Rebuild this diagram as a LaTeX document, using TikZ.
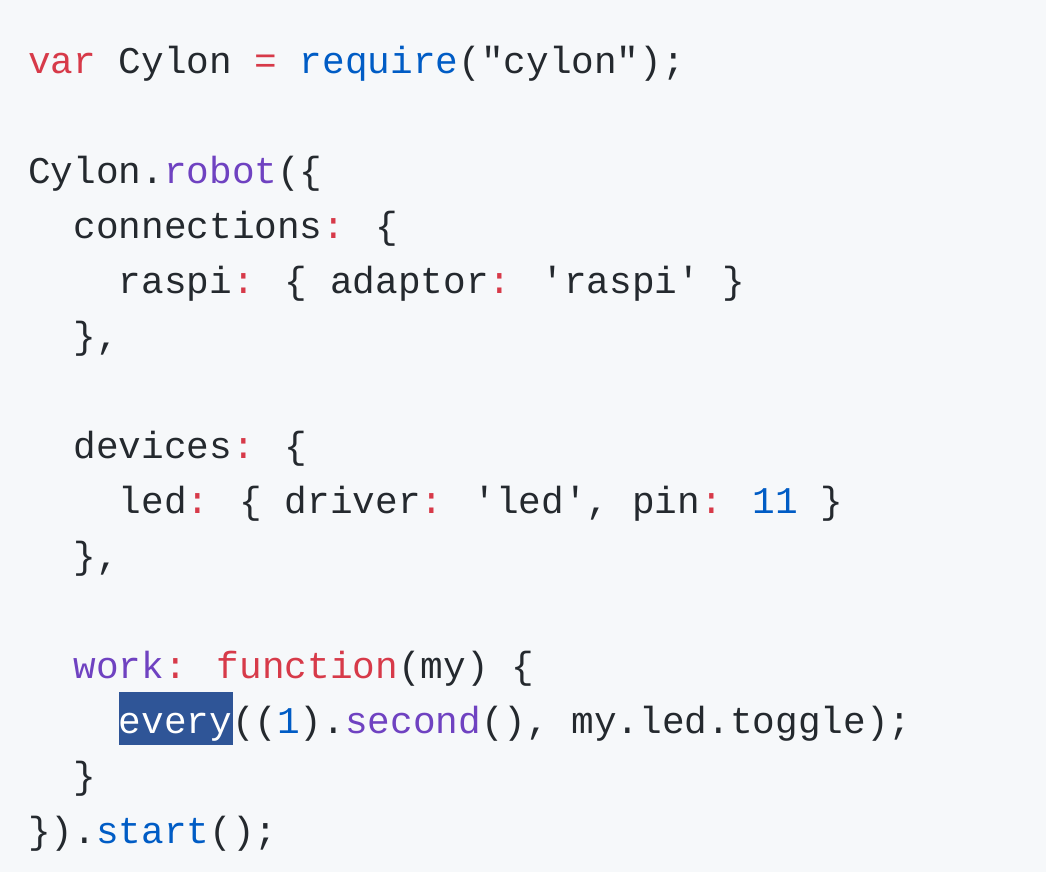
\documentclass[tikz,border=0pt]{standalone}
\usepackage{fontspec}
\newfontfamily\codefont{Liberation Mono}
\definecolor{bgc}{HTML}{F6F8FA}
\definecolor{txc}{HTML}{24292E}
\definecolor{kwc}{HTML}{D73A49}
\definecolor{blc}{HTML}{005CC5}
\definecolor{puc}{HTML}{6F42C1}
\definecolor{hlc}{HTML}{2F5597}
\newcommand{\ckw}[1]{\textcolor{kwc}{#1}}
\newcommand{\cbl}[1]{\textcolor{blc}{#1}}
\newcommand{\cpu}[1]{\textcolor{puc}{#1}}
\newcommand{\sq}{\symbol{39}}
\newcommand{\dq}{\symbol{34}}
\begin{document}
\begin{tikzpicture}[x=0.75pt,y=-0.75pt,
  codeline/.style={anchor=base west,inner sep=0pt,text=txc,font=\codefont\fontsize{28.3}{34}\selectfont}]
\fill[bgc] (0,0) rectangle (1046,872);
\useasboundingbox (0,0) rectangle (1046,872);
\node[codeline] (l1) at (28,73) {\ckw{var} Cylon \ckw{=} \cbl{require}(\dq cylon\dq);};
\node[codeline] (l3) at (28,183) {Cylon.\cpu{robot}(\{};
\node[codeline] (l4) at (28,238) {\ \ connections\ckw{:} \{};
\node[codeline] (l5) at (28,293) {\ \ \ \ raspi\ckw{:} \{ adaptor\ckw{:} \sq raspi\sq\ \}};
\node[codeline] (l6) at (28,348) {\ \ \},};
\node[codeline] (l8) at (28,458) {\ \ devices\ckw{:} \{};
\node[codeline] (l9) at (28,513) {\ \ \ \ led\ckw{:} \{ driver\ckw{:} \sq led\sq, pin\ckw{:} \cbl{11} \}};
\node[codeline] (l10) at (28,568) {\ \ \},};
\node[codeline] (l12) at (28,678) {\ \ \cpu{work}\ckw{:} \ckw{function}(my) \{};
\fill[hlc] (119,692) rectangle (233,745);
\node[codeline] (l13) at (28,733) {\ \ \ \ \textcolor{white}{every}((\cbl{1}).\cpu{second}(), my.led.toggle);};
\node[codeline] (l14) at (28,788) {\ \ \}};
\node[codeline] (l15) at (28,843) {\}).\cbl{start}();};
\end{tikzpicture}
\end{document}
